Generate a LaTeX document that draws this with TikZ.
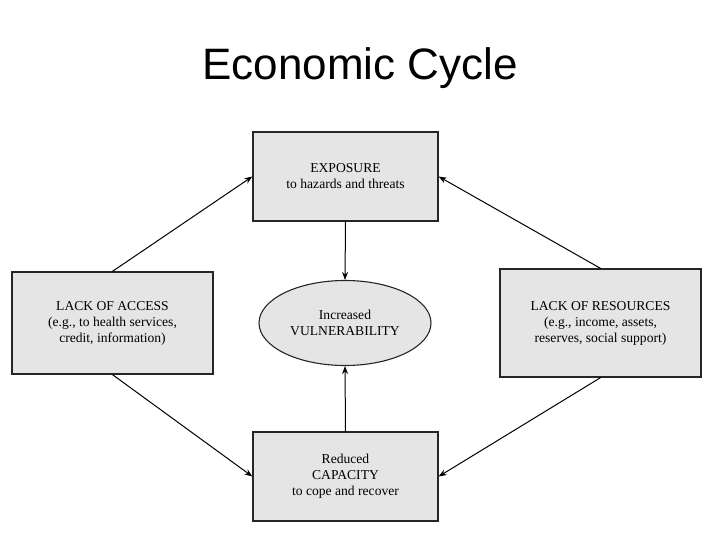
\documentclass[tikz,border=0pt]{standalone}
\usepackage{fontspec}
\setmainfont{Liberation Serif}
\newfontfamily\titlefont{Liberation Sans}
\usetikzlibrary{shapes.geometric,arrows.meta}
\begin{document}
\begin{tikzpicture}[x=1pt,y=-1pt,
  box/.style={draw=black!85,line width=1.3pt,fill=black!10,align=center,inner sep=0pt,font=\fontsize{13.6}{16}\selectfont},
  arr/.style={-{Stealth[length=8pt,width=6pt]},line width=1pt}]
\useasboundingbox (0,0) rectangle (720,540);
\node[font=\titlefont\fontsize{44}{50}\selectfont] (title) at (360,68) {Economic Cycle};
\node[box,minimum width=185pt,minimum height=89pt] (top) at (345.5,176.5) {EXPOSURE\\to hazards and threats};
\node[box,minimum width=201pt,minimum height=102pt] (left) at (112.5,323) {LACK OF ACCESS\\(e.g., to health services,\\credit, information)};
\node[box,minimum width=201pt,minimum height=108pt] (right) at (600.5,323) {LACK OF RESOURCES\\(e.g., income, assets,\\reserves, social support)};
\node[box,minimum width=185pt,minimum height=89pt] (bot) at (345.5,476.5) {Reduced\\CAPACITY\\to cope and recover};
\node[box,ellipse,line width=1.1pt,minimum width=172pt,minimum height=85pt] (mid) at (345,323) {Increased\\VULNERABILITY};
\draw[arr] (top.south) -- (mid.north);
\draw[arr] (bot.north) -- (mid.south);
\draw[arr] (left.north) -- (top.west);
\draw[arr] (right.north) -- (top.east);
\draw[arr] (left.south) -- (bot.west);
\draw[arr] (right.south) -- (bot.east);
\end{tikzpicture}
\end{document}
